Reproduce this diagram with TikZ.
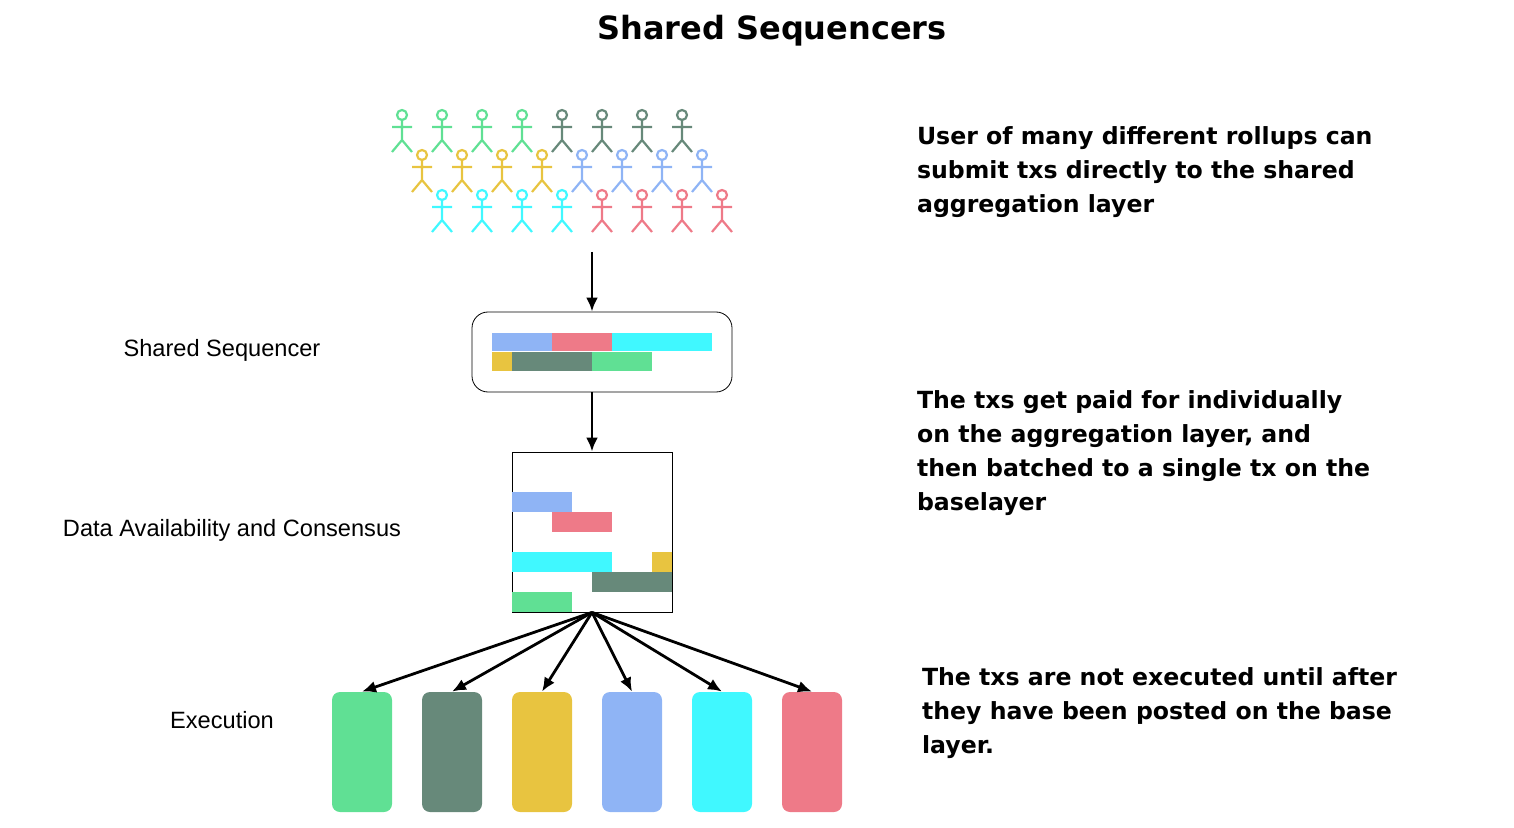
\documentclass[tikz,border=0pt]{standalone}
\usepackage{fontspec}
\setmainfont{Liberation Sans}
\newfontfamily\notefont{DejaVu Sans}
\usepackage{tikz}
\usetikzlibrary{positioning,arrows.meta}
\definecolor{cgreen}{HTML}{60E094}
\definecolor{cdark}{HTML}{67897A}
\definecolor{cyel}{HTML}{E8C440}
\definecolor{cblue}{HTML}{8FB4F5}
\definecolor{ccyan}{HTML}{40F8FF}
\definecolor{cred}{HTML}{EE7A88}
\tikzset{
  exec/.style={fill=#1,draw=none,rounded corners=4pt},
  lbl/.style={font=\fontsize{11.8}{14}\selectfont},
  note/.style={font=\notefont\bfseries\fontsize{11.8}{17}\selectfont,align=left,anchor=north west},
  flow/.style={-{Latex[length=7pt,width=6pt]},line width=1.4pt}
}
% stick figure at (x,y) top of head
\newcommand{\stick}[3]{
  \draw[#3,line width=1.1pt] (#1,-#2-5) circle (5);
  \draw[#3,line width=1.1pt] (#1,-#2-10) -- (#1,-#2-30)
    (#1-10,-#2-17) -- (#1+10,-#2-17)
    (#1-10,-#2-42) -- (#1,-#2-30) -- (#1+10,-#2-42);
}
\begin{document}
\begin{tikzpicture}[x=0.5pt,y=0.5pt]
  \useasboundingbox (0,0) rectangle (1514,-828);
  \node[font=\notefont\bfseries\fontsize{16}{19}\selectfont] (title) at (772,-31) {Shared Sequencers};
  % users
  \foreach \i in {0,...,7} {
    \ifnum\i<4 \def\ca{cgreen}\def\cb{cyel}\def\cc{ccyan}
    \else \def\ca{cdark}\def\cb{cblue}\def\cc{cred}\fi
    \stick{402+40*\i}{110}{\ca}
    \stick{422+40*\i}{150}{\cb}
    \stick{442+40*\i}{190}{\cc}
  }
  \coordinate (users) at (592,-252);
  % shared sequencer
  \node[draw,rounded corners=8pt,minimum width=130pt,minimum height=40pt] (seq) at (602,-352) {};
  \fill[cblue] (492,-333) rectangle (552,-351);
  \fill[cred] (552,-333) rectangle (612,-351);
  \fill[ccyan] (612,-333) rectangle (712,-351);
  \fill[cyel] (492,-352) rectangle (512,-371);
  \fill[cdark] (512,-352) rectangle (592,-371);
  \fill[cgreen] (592,-352) rectangle (652,-371);
  % data availability
  \node[draw,minimum width=80pt,minimum height=80pt] (da) at (592,-532) {};
  \fill[cblue] (512,-492) rectangle (572,-512);
  \fill[cred] (552,-512) rectangle (612,-532);
  \fill[ccyan] (512,-552) rectangle (612,-572);
  \fill[cyel] (652,-552) rectangle (672,-572);
  \fill[cdark] (592,-572) rectangle (672,-592);
  \fill[cgreen] (512,-592) rectangle (572,-612);
  \draw[flow] (users) -- (users |- seq.north);
  \draw[flow] (seq.south -| da.north) -- (da.north);
  % execution
  \foreach \c/\x [count=\n] in {cgreen/362,cdark/452,cyel/542,cblue/632,ccyan/722,cred/812} {
    \node[exec=\c,minimum width=30pt,minimum height=60pt] (ex\n) at (\x,-752) {};
    \draw[flow] (da.south) -- (ex\n.north);
  }
  % labels
  \node[lbl] (lseq) at (222,-350) {Shared Sequencer};
  \node[lbl] (lda) at (232,-530) {Data Availability and Consensus};
  \node[lbl] (lex) at (222,-720) {Execution};
  \node[note] (n1) at (910,-120) {User of many different rollups can\\submit txs directly to the shared\\aggregation layer};
  \node[note] (n2) at (910,-384) {The txs get paid for individually\\on the aggregation layer, and\\then batched to a single tx on the\\baselayer};
  \node[note] (n3) at (915,-660) {The txs are not executed until after\\they have been posted on the base\\layer.};
\end{tikzpicture}
\end{document}
